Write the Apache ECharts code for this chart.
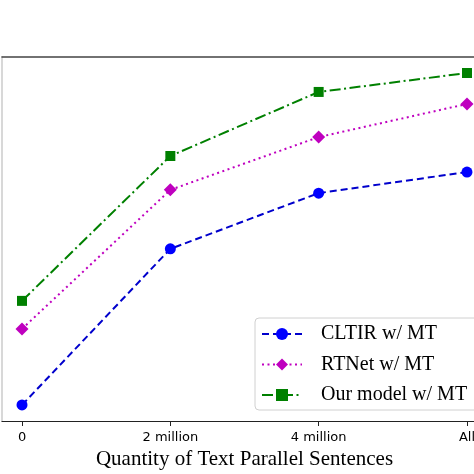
<!DOCTYPE html>
<html>
<head>
<meta charset="utf-8">
<script src="https://cdn.jsdelivr.net/npm/echarts@6/dist/echarts.min.js"></script>
<style>
  html, body { margin: 0; padding: 0; background: #fff; }
  #chart { width: 474px; height: 474px; }
</style>
</head>
<body>
<div id="chart"></div>
<script>
// x positions 0..3 map to the tick labels below
var tickLabels = ["0", "2 million", "4 million", "All"];
var xPos = [0, 1, 2, 3];

// scores (y axis has no visible labels, so arbitrary 0-100 scale)
var cltir = [4.4, 47.3, 62.6, 68.4];
var rtnet = [25.3, 63.5, 78.0, 87.1];
var ours = [33.0, 72.8, 90.4, 95.6];

function pairs(vals) {
    var out = [];
    for (var i = 0; i < vals.length; i++) {
        out.push([xPos[i], vals[i]]);
    }
    return out;
}

var chart = echarts.init(document.getElementById("chart"));

var option = {
    animation: false,
    backgroundColor: "#fff",
    grid: { left: 2, top: 57, right: -13, bottom: 53, outerBoundsMode: "none", containLabel: false },
    legend: {
        orient: "vertical",
        left: 255,
        top: 318,
        padding: [6, 30, 5, 6],
        itemGap: 10.5,
        itemWidth: 40,
        itemHeight: 15,
        borderColor: "#d0d0d0",
        borderWidth: 1,
        borderRadius: 4,
        backgroundColor: "rgba(255,255,255,0.8)",
        textStyle: { fontFamily: "Liberation Serif", fontSize: 20, color: "#000", padding: [0, 0, 0, 14] },
        data: ["CLTIR w/ MT", "RTNet w/ MT", "Our model w/ MT"]
    },
    xAxis: [{
        type: "value",
        min: -0.135,
        max: 3.135,
        position: "bottom",
        name: "Quantity of Text Parallel Sentences",
        nameLocation: "middle",
        nameGap: 27,
        nameTextStyle: { fontFamily: "Liberation Serif", fontSize: 21, color: "#000" },
        axisLine: { show: true, onZero: false, lineStyle: { color: "#222", width: 1.2 } },
        axisTick: { show: true, length: 5, customValues: xPos, lineStyle: { color: "#222" } },
        axisLabel: {
            customValues: xPos,
            margin: 10,
            fontFamily: "DejaVu Sans",
            fontSize: 13,
            color: "#000",
            formatter: function (v) { return tickLabels[Math.round(v)]; }
        },
        splitLine: { show: false }
    }, {
        type: "value",
        min: -0.135,
        max: 3.135,
        position: "top",
        axisLine: { show: true, onZero: false, lineStyle: { color: "#444", width: 1.5 } },
        axisTick: { show: false },
        axisLabel: { show: false },
        splitLine: { show: false }
    }],
    yAxis: {
        type: "value",
        min: 0,
        max: 100,
        axisLine: { show: true, onZero: false, lineStyle: { color: "#d8d8d8", width: 2 } },
        axisTick: { show: false },
        axisLabel: { show: false },
        splitLine: { show: false }
    },
    series: [{
        name: "CLTIR w/ MT",
        type: "line",
        data: pairs(cltir),
        symbol: "circle",
        symbolSize: 11,
        itemStyle: { color: "#0000ff" },
        lineStyle: { color: "#0000cc", width: 2, type: [7, 4] }
    }, {
        name: "RTNet w/ MT",
        type: "line",
        data: pairs(rtnet),
        symbol: "diamond",
        symbolSize: 13,
        itemStyle: { color: "#bf00bf" },
        lineStyle: { color: "#bf00bf", width: 2, type: [2, 3.5] }
    }, {
        name: "Our model w/ MT",
        type: "line",
        data: pairs(ours),
        symbol: "rect",
        symbolSize: 10,
        itemStyle: { color: "#008000" },
        lineStyle: { color: "#008000", width: 2, type: [11, 3.5, 2, 3.5] }
    }]
};

chart.setOption(option);
</script>
</body>
</html>
